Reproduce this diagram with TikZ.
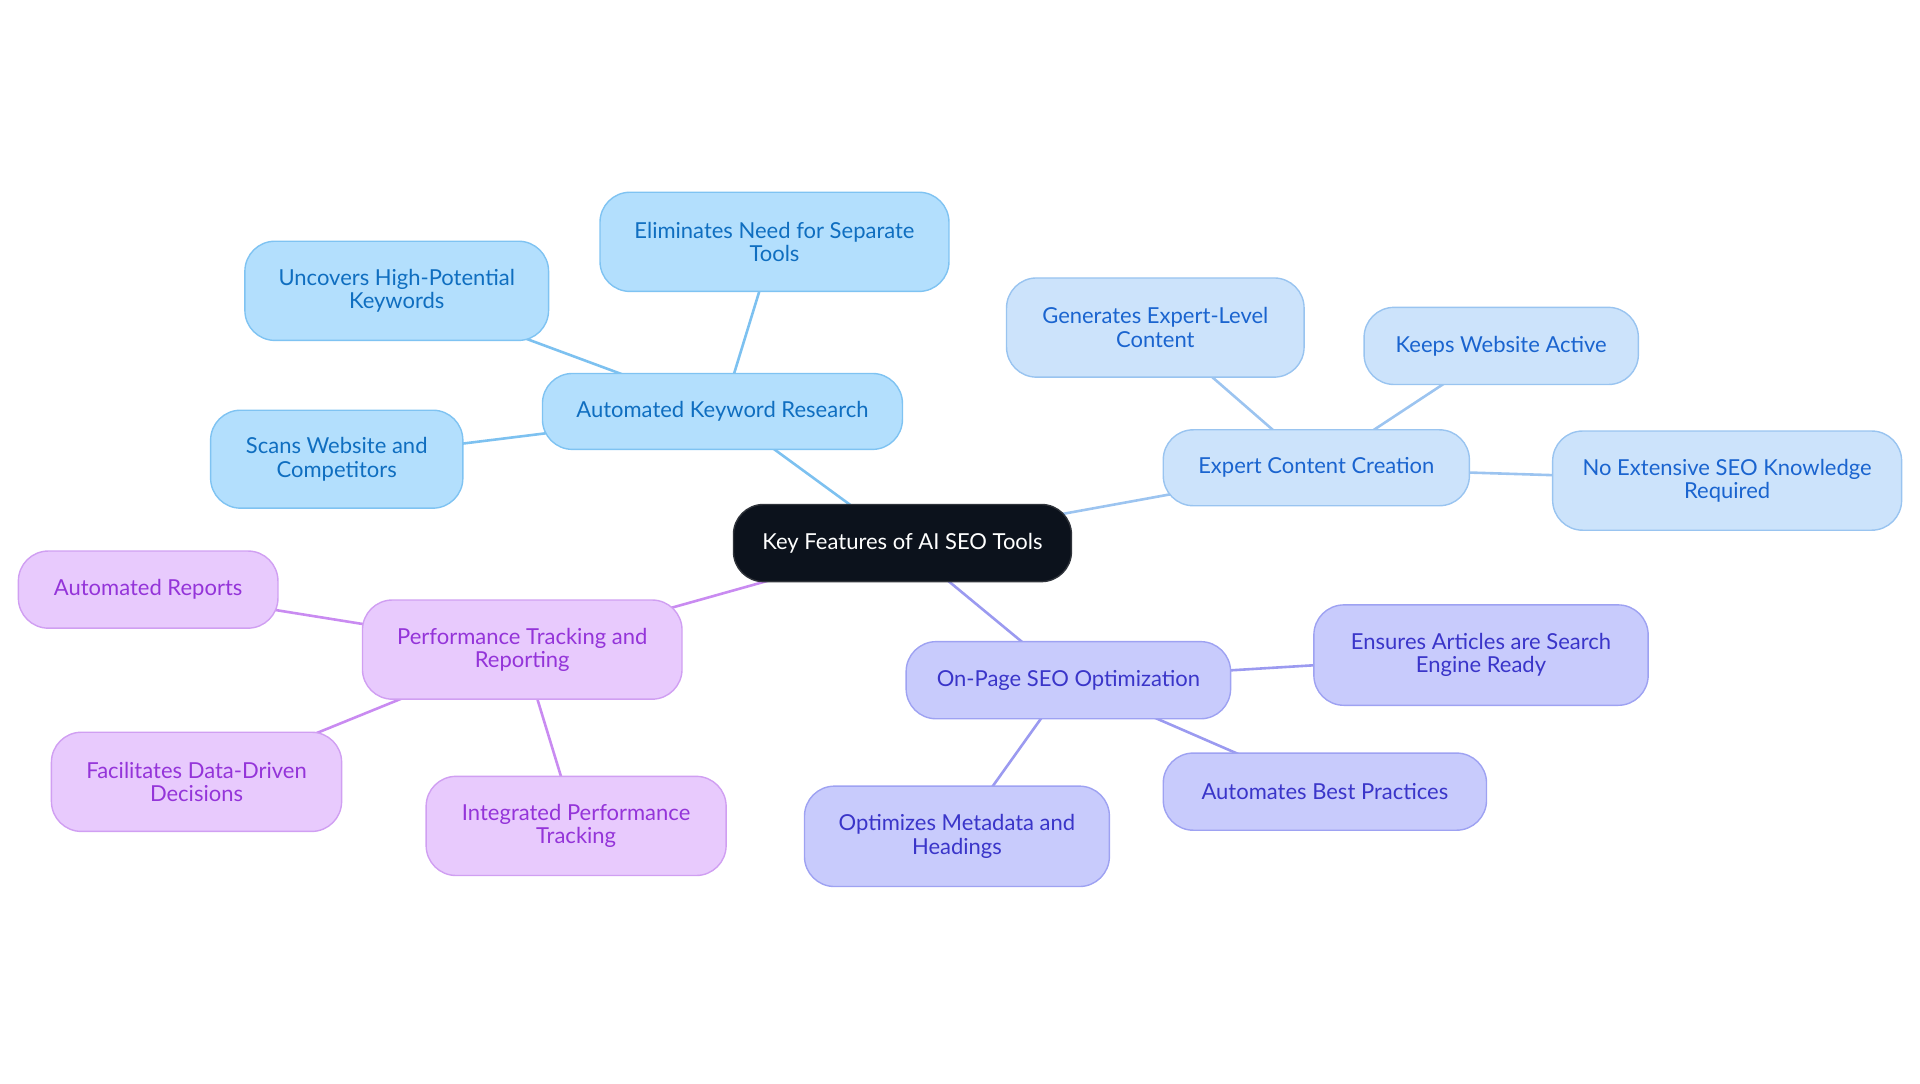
\documentclass[tikz,border=0pt]{standalone}
\usepackage{fontspec}
\setmainfont{Lato}
\usetikzlibrary{backgrounds}
\definecolor{cfill}{HTML}{0C121C}
\definecolor{afill}{HTML}{B3DFFD}\definecolor{adraw}{HTML}{7FC3F2}\definecolor{atext}{HTML}{0F6EC0}\definecolor{aedge}{HTML}{7DC1F0}
\definecolor{efill}{HTML}{CCE3FB}\definecolor{edraw}{HTML}{99C4F0}\definecolor{etext}{HTML}{1A64CF}\definecolor{eedge}{HTML}{9CC4F0}
\definecolor{ofill}{HTML}{C8CBFC}\definecolor{odraw}{HTML}{9EA2F2}\definecolor{otext}{HTML}{3A35C9}\definecolor{oedge}{HTML}{9B9AF0}
\definecolor{pfill}{HTML}{E8CAFD}\definecolor{pdraw}{HTML}{D09FF2}\definecolor{ptext}{HTML}{9434D9}\definecolor{pedge}{HTML}{C98BF1}
\begin{document}
\begin{tikzpicture}[x=0.6123pt,y=-0.6123pt,
  box/.style={rounded corners=15pt, draw, line width=0.7pt, align=center, inner sep=0pt,
    font=\fontsize{11}{11.6}\selectfont},
  centerbox/.style={box, fill=cfill, draw=cfill!70!gray, text=white},
  abox/.style={box, fill=afill, draw=adraw, text=atext},
  ebox/.style={box, fill=efill, draw=edraw, text=etext},
  obox/.style={box, fill=ofill, draw=odraw, text=otext},
  pbox/.style={box, fill=pfill, draw=pdraw, text=ptext},
  sz/.style 2 args={minimum width=#1*0.6123pt, minimum height=#2*0.6123pt},
  link/.style={line width=1.3pt}
]
\useasboundingbox (0,0) rectangle (1568,884.5);
% center
\node[centerbox, sz={276}{63}] (c) at (737,443.5) {Key Features of AI SEO Tools};
% keyword branch
\node[abox, sz={294}{62}] (akr) at (590,336) {Automated Keyword Research};
\node[abox, sz={285}{81}] (elim) at (632.5,197.5) {Eliminates Need for Separate\\Tools};
\node[abox, sz={248}{81}] (unc) at (324,237.5) {Uncovers High-Potential\\Keywords};
\node[abox, sz={206}{80}] (scan) at (275,375) {Scans Website and\\Competitors};
% content branch
\node[ebox, sz={250}{62}] (exp) at (1075,382) {Expert Content Creation};
\node[ebox, sz={243}{81}] (gen) at (943.5,267.5) {Generates Expert-Level\\Content};
\node[ebox, sz={224}{63}] (keep) at (1226,282.5) {Keeps Website Active};
\node[ebox, sz={285}{81}] (noext) at (1410.5,392.5) {No Extensive SEO Knowledge\\Required};
% on-page branch
\node[obox, sz={265}{63}] (onp) at (872.5,555.5) {On-Page SEO Optimization};
\node[obox, sz={273}{82}] (ens) at (1209.5,535) {Ensures Articles are Search\\Engine Ready};
\node[obox, sz={264}{63}] (autob) at (1082,646.5) {Automates Best Practices};
\node[obox, sz={249}{82}] (opt) at (781.5,683) {Optimizes Metadata and\\Headings};
% performance branch
\node[pbox, sz={261}{81}] (perf) at (426.5,530.5) {Performance Tracking and\\Reporting};
\node[pbox, sz={212}{63}] (autor) at (121,481.5) {Automated Reports};
\node[pbox, sz={237}{81}] (fac) at (160.5,638.5) {Facilitates Data-Driven\\Decisions};
\node[pbox, sz={245}{81}] (integ) at (470.5,674.5) {Integrated Performance\\Tracking};
% links (behind the boxes, centre to centre)
\begin{pgfonlayer}{background}
\draw[link, aedge] (c.center) -- (akr.center);
\draw[link, aedge] (akr.center) -- (elim.center);
\draw[link, aedge] (akr.center) -- (unc.center);
\draw[link, aedge] (akr.center) -- (scan.center);
\draw[link, eedge] (c.center) -- (exp.center);
\draw[link, eedge] (exp.center) -- (gen.center);
\draw[link, eedge] (exp.center) -- (keep.center);
\draw[link, eedge] (exp.center) -- (noext.center);
\draw[link, oedge] (c.center) -- (onp.center);
\draw[link, oedge] (onp.center) -- (ens.center);
\draw[link, oedge] (onp.center) -- (autob.center);
\draw[link, oedge] (onp.center) -- (opt.center);
\draw[link, pedge] (c.center) -- (perf.center);
\draw[link, pedge] (perf.center) -- (autor.center);
\draw[link, pedge] (perf.center) -- (fac.center);
\draw[link, pedge] (perf.center) -- (integ.center);
\end{pgfonlayer}
\end{tikzpicture}
\end{document}
